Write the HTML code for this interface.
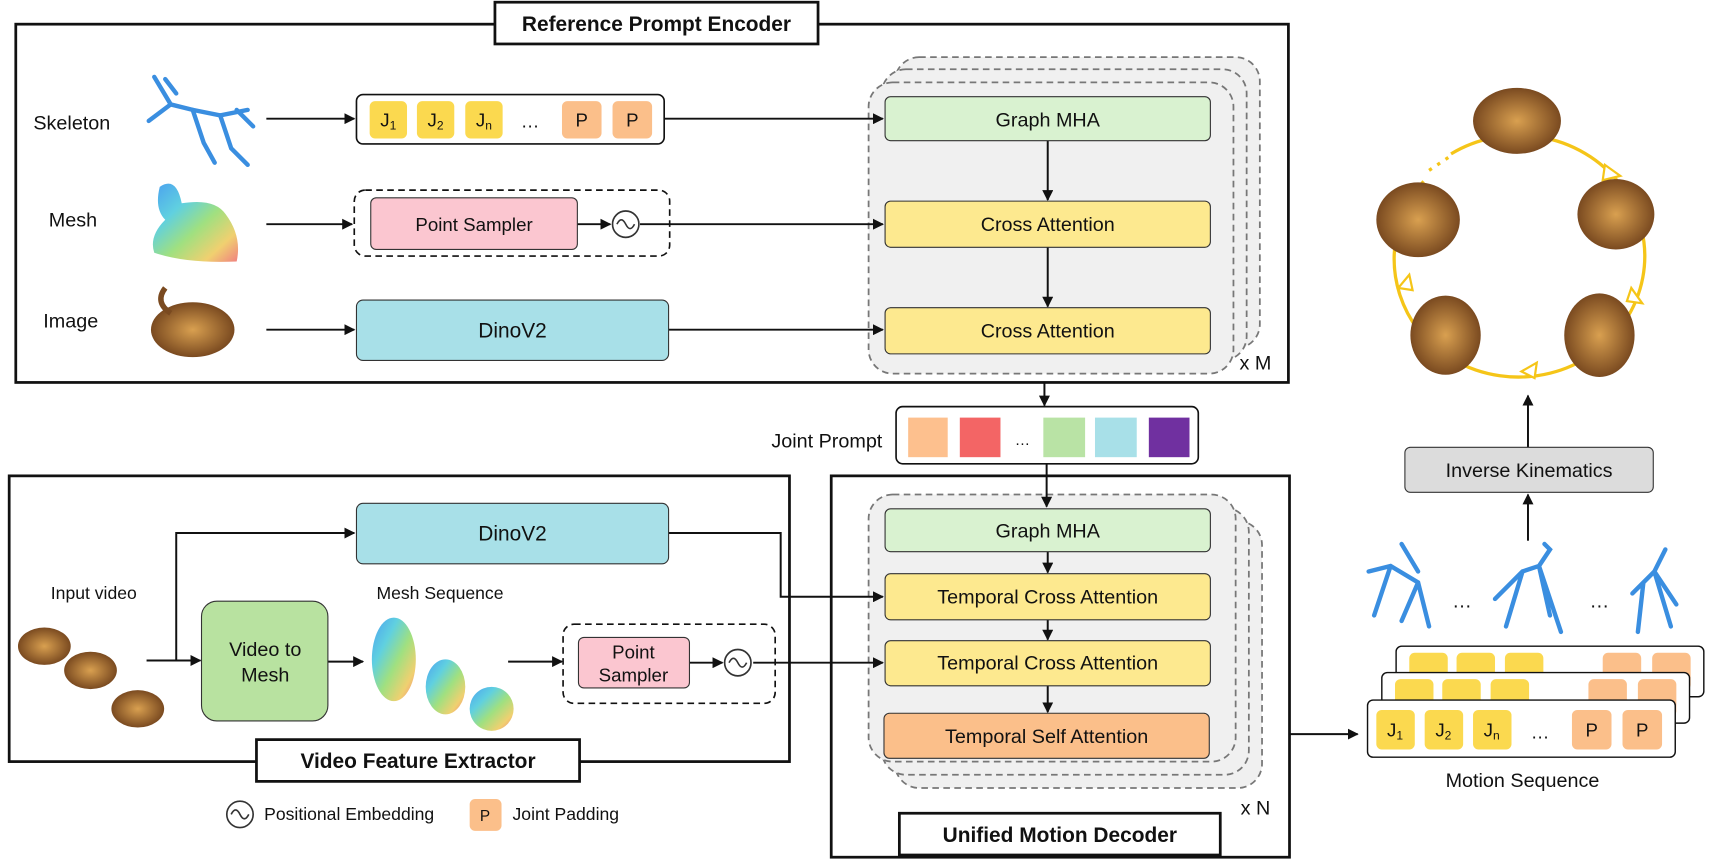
<!DOCTYPE html>
<html><head><meta charset="utf-8"><style>
html,body{margin:0;padding:0;background:#fff}
svg{display:block}
text{font-family:"Liberation Sans",Arial,sans-serif;fill:#111}
</style></head><body>
<svg width="1724" height="866" viewBox="0 0 1568 788" xmlns="http://www.w3.org/2000/svg">
<defs>
<marker id="a" markerWidth="10" markerHeight="10" refX="9" refY="5" orient="auto" markerUnits="userSpaceOnUse"><path d="M0,0 L10,5 L0,10 z" fill="#111"/></marker>
<linearGradient id="rb" x1="0" y1="0" x2="1" y2="1"><stop offset="0" stop-color="#4aa0f0"/><stop offset=".3" stop-color="#60d0e0"/><stop offset=".55" stop-color="#a0e080"/><stop offset=".8" stop-color="#f0d070"/><stop offset="1" stop-color="#f08080"/></linearGradient>
<radialGradient id="lp"><stop offset="0" stop-color="#d9a050"/><stop offset="1" stop-color="#7a4a20"/></radialGradient>
</defs>
<g stroke="#111" stroke-width="1.6" fill="none">
<rect x="14" y="22" width="1158" height="326" stroke-width="2.5"/>
<rect x="814" y="52" width="332" height="265" rx="22" fill="#f0f0f0" stroke="#777" stroke-dasharray="6 4"/>
<rect x="802" y="63" width="332" height="265" rx="22" fill="#f0f0f0" stroke="#777" stroke-dasharray="6 4"/>
<rect x="790" y="75" width="332" height="265" rx="22" fill="#f0f0f0" stroke="#777" stroke-dasharray="6 4"/>
<rect x="756" y="433" width="417" height="347" stroke-width="2.5"/>
<rect x="814" y="474" width="334" height="243" rx="22" fill="#f0f0f0" stroke="#777" stroke-dasharray="6 4"/>
<rect x="802" y="462" width="334" height="243" rx="22" fill="#f0f0f0" stroke="#777" stroke-dasharray="6 4"/>
<rect x="790" y="450" width="334" height="243" rx="22" fill="#f0f0f0" stroke="#777" stroke-dasharray="6 4"/>
<rect x="8" y="433" width="710" height="260" stroke-width="2.5"/>
</g>
<rect x="450" y="2" width="294" height="38" fill="#fff" stroke="#111" stroke-width="2.5"/>
<text x="597" y="28" font-size="19" font-weight="bold" text-anchor="middle">Reference Prompt Encoder</text>
<rect x="233" y="673" width="294" height="38" fill="#fff" stroke="#111" stroke-width="2.5"/>
<text x="380" y="699" font-size="19" font-weight="bold" text-anchor="middle">Video Feature Extractor</text>
<rect x="818" y="740" width="292" height="38" fill="#fff" stroke="#111" stroke-width="2.5"/>
<text x="964" y="766" font-size="19" font-weight="bold" text-anchor="middle">Unified Motion Decoder</text>

<g font-size="18" text-anchor="middle">
<text x="65" y="118">Skeleton</text><text x="66" y="206">Mesh</text><text x="64" y="298">Image</text>
<text x="85" y="545" font-size="16">Input video</text><text x="400" y="545" font-size="16">Mesh Sequence</text>
<text x="752" y="407">Joint Prompt</text>
<text x="1385" y="716">Motion Sequence</text>
<text x="1142" y="336">x M</text><text x="1142" y="741">x N</text>
</g>

<g stroke="#3a8ee0" stroke-width="4" stroke-linecap="round" fill="none">
<path d="M140,70 L155,95 L175,100 L200,105 L225,100"/><path d="M155,95 L135,110"/><path d="M175,100 L185,130 L195,148"/><path d="M200,105 L210,135 L225,150"/><path d="M215,100 L230,115"/><path d="M160,85 L150,72"/>
</g>
<path d="M145,170 Q140,190 150,200 Q135,215 140,230 Q170,240 215,238 Q220,215 205,195 Q195,180 165,185 Q160,160 145,170z" fill="url(#rb)"/>
<ellipse cx="175" cy="300" rx="38" ry="25" fill="url(#lp)"/><path d="M150,262 Q140,275 155,285" stroke="#7a4a20" stroke-width="5" fill="none"/>

<g stroke="#111" stroke-width="1.8" fill="none" marker-end="url(#a)">
<line x1="242" y1="108" x2="322" y2="108"/>
<line x1="604" y1="108" x2="803" y2="108"/>
<line x1="242" y1="204" x2="320" y2="204"/>
<line x1="525" y1="204" x2="555" y2="204"/>
<line x1="582" y1="204" x2="803" y2="204"/>
<line x1="242" y1="300" x2="322" y2="300"/>
<line x1="608" y1="300" x2="803" y2="300"/>
<line x1="953" y1="128" x2="953" y2="182"/>
<line x1="953" y1="225" x2="953" y2="279"/>
<line x1="950" y1="348" x2="950" y2="369"/>
<line x1="952" y1="422" x2="952" y2="461"/>
<line x1="953" y1="502" x2="953" y2="521"/>
<line x1="953" y1="564" x2="953" y2="582"/>
<line x1="953" y1="624" x2="953" y2="648"/>
<polyline points="160,601 160,485 322,485"/>
<line x1="133" y1="601" x2="182" y2="601"/>
<polyline points="608,485 710,485 710,543 803,543"/>
<line x1="298" y1="602" x2="330" y2="602"/>
<line x1="462" y1="602" x2="511" y2="602"/>
<line x1="627" y1="603" x2="657" y2="603"/>
<line x1="685" y1="603" x2="803" y2="603"/>
<line x1="1173" y1="668" x2="1235" y2="668"/>
<line x1="1390" y1="492" x2="1390" y2="450"/>
<line x1="1390" y1="407" x2="1390" y2="360"/>
</g>

<rect x="324" y="86" width="280" height="45" rx="6" fill="#fff" stroke="#111" stroke-width="1.5"/>
<g font-size="17" text-anchor="middle">
<rect x="336" y="92" width="34" height="34" rx="5" fill="#fbd94f"/><text x="353" y="115">J<tspan font-size="11" dy="3">1</tspan></text>
<rect x="379" y="92" width="34" height="34" rx="5" fill="#fbd94f"/><text x="396" y="115">J<tspan font-size="11" dy="3">2</tspan></text>
<rect x="423" y="92" width="34" height="34" rx="5" fill="#fbd94f"/><text x="440" y="115">J<tspan font-size="11" dy="3">n</tspan></text>
<text x="482" y="116">…</text>
<rect x="511" y="92" width="36" height="34" rx="5" fill="#fbbf8a"/><text x="529" y="115">P</text>
<rect x="557" y="92" width="36" height="34" rx="5" fill="#fbbf8a"/><text x="575" y="115">P</text>
</g>

<rect x="322" y="173" width="287" height="60" rx="10" fill="none" stroke="#111" stroke-width="1.5" stroke-dasharray="6 4"/>
<rect x="337" y="180" width="188" height="47" rx="5" fill="#fbc6d0" stroke="#333"/>
<text x="431" y="210" font-size="17" text-anchor="middle">Point Sampler</text>
<circle cx="569" cy="204" r="12" fill="#fff" stroke="#333" stroke-width="1.5"/><path d="M561,204 q4,-8 8,0 t8,0" stroke="#333" fill="none" stroke-width="1.5"/>
<rect x="324" y="273" width="284" height="55" rx="6" fill="#a8e0e8" stroke="#333"/>
<text x="466" y="307" font-size="19" text-anchor="middle">DinoV2</text>

<g font-size="18" text-anchor="middle">
<rect x="805" y="88" width="296" height="40" rx="5" fill="#d9f2d0" stroke="#333"/><text x="953" y="115">Graph MHA</text>
<rect x="805" y="183" width="296" height="42" rx="5" fill="#fde98f" stroke="#333"/><text x="953" y="210">Cross Attention</text>
<rect x="805" y="280" width="296" height="42" rx="5" fill="#fde98f" stroke="#333"/><text x="953" y="307">Cross Attention</text>
<rect x="805" y="463" width="296" height="39" rx="5" fill="#d9f2d0" stroke="#333"/><text x="953" y="489">Graph MHA</text>
<rect x="805" y="522" width="296" height="42" rx="5" fill="#fde98f" stroke="#333"/><text x="953" y="549">Temporal Cross Attention</text>
<rect x="805" y="583" width="296" height="41" rx="5" fill="#fde98f" stroke="#333"/><text x="953" y="609">Temporal Cross Attention</text>
<rect x="804" y="649" width="296" height="41" rx="5" fill="#fbbf8a" stroke="#333"/><text x="952" y="676">Temporal Self Attention</text>
</g>

<rect x="815" y="370" width="275" height="52" rx="6" fill="#fff" stroke="#111" stroke-width="1.5"/>
<rect x="826" y="380" width="36" height="36" fill="#fdc08e"/>
<rect x="873" y="380" width="37" height="36" fill="#f36565"/>
<text x="930" y="405" font-size="14" text-anchor="middle">…</text>
<rect x="949" y="380" width="38" height="36" fill="#b9e3a5"/>
<rect x="996" y="380" width="38" height="36" fill="#a8e0e8"/>
<rect x="1045" y="380" width="37" height="36" fill="#7030a0"/>

<rect x="324" y="458" width="284" height="55" rx="6" fill="#a8e0e8" stroke="#333"/>
<text x="466" y="492" font-size="19" text-anchor="middle">DinoV2</text>
<g fill="url(#lp)"><ellipse cx="40" cy="588" rx="24" ry="17"/><ellipse cx="82" cy="610" rx="24" ry="17"/><ellipse cx="125" cy="645" rx="24" ry="17"/></g>
<rect x="183" y="547" width="115" height="109" rx="14" fill="#b8e2a0" stroke="#333"/>
<text x="241" y="597" font-size="18" text-anchor="middle">Video to</text><text x="241" y="620" font-size="18" text-anchor="middle">Mesh</text>
<g fill="url(#rb)"><ellipse cx="358" cy="600" rx="20" ry="38"/><ellipse cx="405" cy="625" rx="18" ry="25"/><ellipse cx="447" cy="645" rx="20" ry="20"/></g>
<rect x="512" y="568" width="193" height="72" rx="10" fill="none" stroke="#111" stroke-width="1.5" stroke-dasharray="6 4"/>
<rect x="526" y="580" width="101" height="46" rx="5" fill="#fbc6d0" stroke="#333"/>
<text x="576" y="599" font-size="17" text-anchor="middle">Point</text><text x="576" y="620" font-size="17" text-anchor="middle">Sampler</text>
<circle cx="671" cy="603" r="12" fill="#fff" stroke="#333" stroke-width="1.5"/><path d="M663,603 q4,-8 8,0 t8,0" stroke="#333" fill="none" stroke-width="1.5"/>

<circle cx="218" cy="741" r="12" fill="#fff" stroke="#333" stroke-width="1.5"/><path d="M210,741 q4,-8 8,0 t8,0" stroke="#333" fill="none" stroke-width="1.5"/>
<text x="240" y="746" font-size="16">Positional Embedding</text>
<rect x="427" y="727" width="29" height="29" rx="5" fill="#fbbf8a"/><text x="441" y="747" font-size="14" text-anchor="middle">P</text>
<text x="466" y="746" font-size="16">Joint Padding</text>

<g font-size="17" text-anchor="middle">
<rect x="1270" y="588" width="280" height="46" rx="5" fill="#fff" stroke="#111" stroke-width="1.3"/>
<rect x="1282" y="594" width="35" height="34" rx="5" fill="#fbd94f"/><rect x="1325" y="594" width="35" height="34" rx="5" fill="#fbd94f"/><rect x="1369" y="594" width="35" height="34" rx="5" fill="#fbd94f"/>
<rect x="1458" y="594" width="35" height="34" rx="5" fill="#fbbf8a"/><rect x="1503" y="594" width="35" height="34" rx="5" fill="#fbbf8a"/>
<rect x="1257" y="612" width="280" height="46" rx="5" fill="#fff" stroke="#111" stroke-width="1.3"/>
<rect x="1269" y="618" width="35" height="34" rx="5" fill="#fbd94f"/><rect x="1312" y="618" width="35" height="34" rx="5" fill="#fbd94f"/><rect x="1356" y="618" width="35" height="34" rx="5" fill="#fbd94f"/>
<rect x="1445" y="618" width="35" height="34" rx="5" fill="#fbbf8a"/><rect x="1490" y="618" width="35" height="34" rx="5" fill="#fbbf8a"/>
<rect x="1244" y="637" width="280" height="52" rx="5" fill="#fff" stroke="#111" stroke-width="1.3"/>
<rect x="1252" y="646" width="35" height="36" rx="5" fill="#fbd94f"/><text x="1269" y="670">J<tspan font-size="11" dy="3">1</tspan></text>
<rect x="1296" y="646" width="35" height="36" rx="5" fill="#fbd94f"/><text x="1313" y="670">J<tspan font-size="11" dy="3">2</tspan></text>
<rect x="1340" y="646" width="35" height="36" rx="5" fill="#fbd94f"/><text x="1357" y="670">J<tspan font-size="11" dy="3">n</tspan></text>
<text x="1401" y="672">…</text>
<rect x="1430" y="646" width="36" height="36" rx="5" fill="#fbbf8a"/><text x="1448" y="670">P</text>
<rect x="1476" y="646" width="36" height="36" rx="5" fill="#fbbf8a"/><text x="1494" y="670">P</text>
</g>
<g stroke="#3a8ee0" stroke-width="4" stroke-linecap="round" fill="none">
<path d="M1245,520 L1265,515 L1290,530 L1300,570 M1265,515 L1250,560 M1290,530 L1275,565 M1290,520 L1275,495"/>
<path d="M1360,545 L1385,520 L1400,515 L1410,560 M1385,520 L1370,570 M1400,515 L1420,575 M1400,515 L1410,500 L1405,495"/>
<path d="M1485,540 L1505,520 L1515,500 M1505,520 L1520,570 M1495,530 L1490,575 M1505,520 L1525,550"/>
</g>
<text x="1330" y="553" font-size="18" text-anchor="middle">…</text><text x="1455" y="553" font-size="18" text-anchor="middle">…</text>
<rect x="1278" y="407" width="226" height="41" rx="5" fill="#dcdcdc" stroke="#333"/>
<text x="1391" y="434" font-size="18" text-anchor="middle">Inverse Kinematics</text>

<path d="M1320,140 A115,110 0 1 1 1290,300" stroke="#f5c518" stroke-width="3" fill="none"/>
<path d="M1290,300 A115,110 0 0 1 1295,165" stroke="#f5c518" stroke-width="3" fill="none"/>
<path d="M1300,155 L1318,143" stroke="#f5c518" stroke-width="3" stroke-dasharray="3 6" fill="none"/>
<g fill="#fff" stroke="#f5c518" stroke-width="2">
<path d="M1460,150 L1474,160 L1458,164 z"/>
<path d="M1484,262 L1494,276 L1480,274 z"/>
<path d="M1398,330 L1384,338 L1396,344 z"/>
<path d="M1272,262 L1282,250 L1285,264 z"/>
</g>
<g fill="url(#lp)">
<ellipse cx="1380" cy="110" rx="40" ry="30"/>
<ellipse cx="1290" cy="200" rx="38" ry="34"/>
<ellipse cx="1470" cy="195" rx="35" ry="32"/>
<ellipse cx="1315" cy="305" rx="32" ry="36"/>
<ellipse cx="1455" cy="305" rx="32" ry="38"/>
</g>
</svg>
</body></html>
